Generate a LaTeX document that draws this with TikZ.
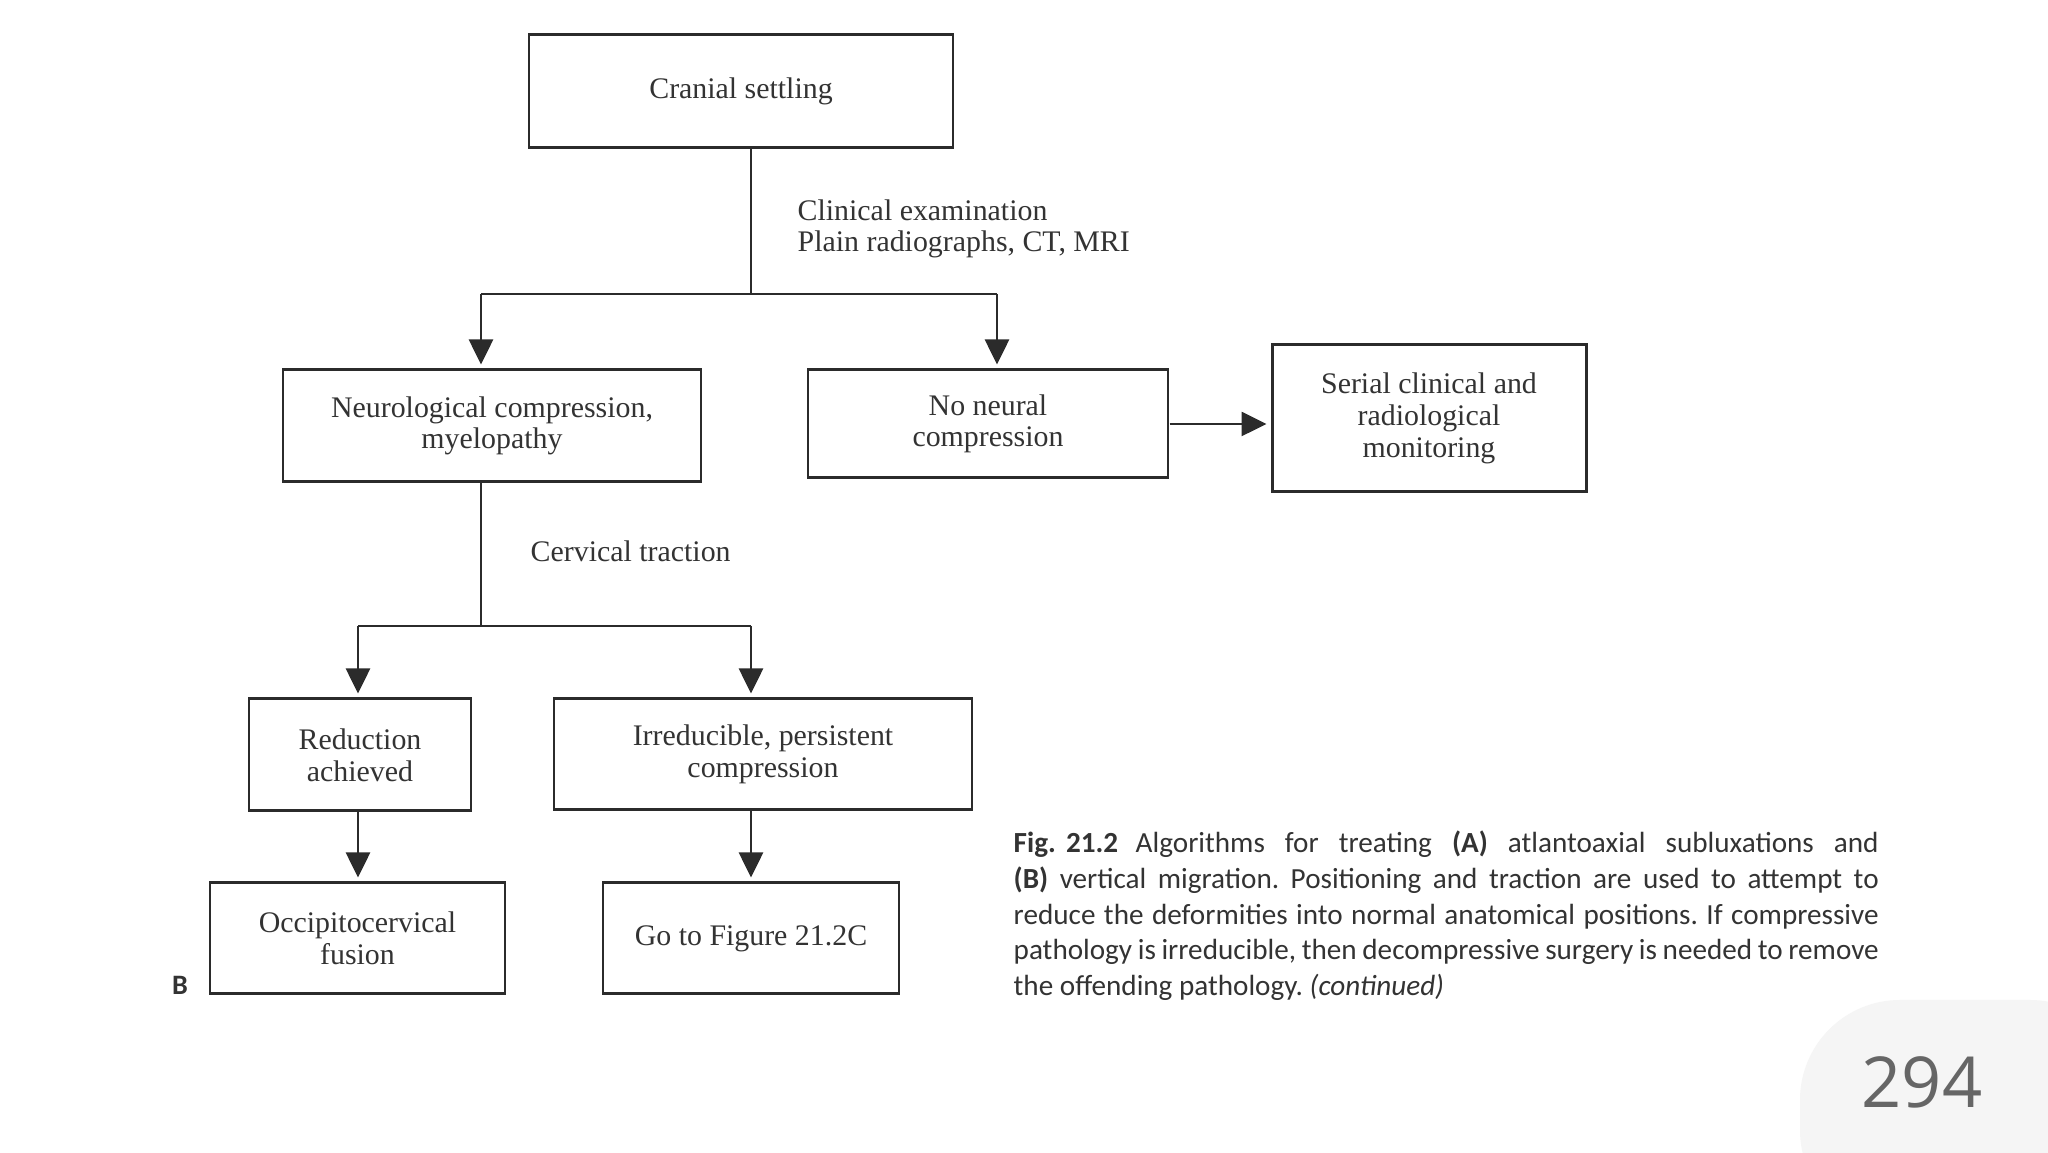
\documentclass[tikz,border=0pt]{standalone}
\usepackage{fontspec}
\setmainfont{Liberation Serif}
\newfontfamily\captionfont{Carlito}
\newfontfamily\pagefont{Open Sans}
\usetikzlibrary{arrows.meta}
\definecolor{inkgray}{HTML}{2B2B2B}
\definecolor{textgray}{HTML}{333333}
\definecolor{pagegray}{HTML}{F5F5F5}
\definecolor{numgray}{HTML}{666666}
\tikzstyle{flowbox} = [rectangle, 
draw=inkgray, 
line width=0.85pt, 
inner sep=0pt, 
text centered, 
align=center, 
text=textgray, 
font=\fontsize{8.5}{9}\selectfont]
\tikzstyle{connector} = [draw=inkgray, 
line width=0.75pt]
\tikzstyle{arrow} = [connector, 
-{Triangle[length=0.25cm, width=0.24cm]}, 
shorten >=0.04cm]
\tikzstyle{note} = [inner sep=0pt, 
align=left, 
anchor=west, 
text=textgray, 
font=\fontsize{8.5}{9}\selectfont]
\frenchspacing
\begin{document}
\begin{tikzpicture}[node distance=3.3cm]
			
			\useasboundingbox (0,0) rectangle (20.48,-11.53);
			\fill [white] (0,0) rectangle (20.48,-11.53);
			\fill [pagegray, rounded corners=1cm] (18.0,-10.0) rectangle (21.3,-12.3);
			
			\node (cranial) [flowbox, minimum width=4.24cm, minimum height=1.13cm] at (7.41,-0.915) {Cranial settling};
			
			\node (neuro) [flowbox, below of=cranial, xshift=-2.49cm, yshift=-0.045cm, minimum width=4.18cm, minimum height=1.12cm] {Neurological compression,\\myelopathy};
			
			\node (noneural) [flowbox, right of=neuro, xshift=1.66cm, yshift=0.02cm, minimum width=3.6cm, minimum height=1.08cm] {No neural\\compression};
			
			\node (serial) [flowbox, right of=noneural, xshift=1.11cm, yshift=0.055cm, minimum width=3.14cm, minimum height=1.47cm] {Serial clinical and\\radiological\\monitoring};
			
			\node (reduction) [flowbox, below of=neuro, xshift=-1.32cm, yshift=0.01cm, minimum width=2.22cm, minimum height=1.12cm] {Reduction\\achieved};
			
			\node (irreducible) [flowbox, right of=reduction, xshift=0.73cm, yshift=0.005cm, minimum width=4.18cm, minimum height=1.11cm] {Irreducible, persistent\\compression};
			
			\node (occip) [flowbox, below of=reduction, xshift=-0.025cm, yshift=1.465cm, minimum width=2.95cm, minimum height=1.11cm] {Occipitocervical\\fusion};
			
			\node (goto) [flowbox, below of=irreducible, xshift=-0.12cm, yshift=1.46cm, minimum width=2.96cm, minimum height=1.11cm] {Go to Figure 21.2C};
			
			\node (exam) [note] at (7.97,-2.29) {Clinical examination\\Plain radiographs, CT, MRI};
			
			\node (traction) [note] at (5.30,-5.51) {Cervical traction};
			
			\coordinate (split1) at (7.51,-2.94);
			\coordinate (left1) at (4.81,-2.94);
			\coordinate (right1) at (9.97,-2.94);
			\coordinate (split2) at (4.81,-6.26);
			\coordinate (left2) at (3.58,-6.26);
			\coordinate (right2) at (7.51,-6.26);
			
			\draw [connector] (cranial.south -| split1) -- (split1);
			\draw [connector] (left1) -- (right1);
			\draw [arrow] (left1) -- (left1 |- neuro.north);
			\draw [arrow] (right1) -- (right1 |- noneural.north);
			\draw [arrow] (noneural.east) -- (noneural.east -| serial.west);
			\draw [connector] (neuro.south -| split2) -- (split2);
			\draw [connector] (left2) -- (right2);
			\draw [arrow] (left2) -- (left2 |- reduction.north);
			\draw [arrow] (right2) -- (right2 |- irreducible.north);
			\draw [arrow] (reduction.south -| left2) -- (left2 |- occip.north);
			\draw [arrow] (irreducible.south -| right2) -- (right2 |- goto.north);
			
			\node (panel) [inner sep=0pt, anchor=base, text=textgray, font=\captionfont\bfseries\fontsize{8}{9}\selectfont] at (1.80,-9.95) {B};
			
			\node (caption) [anchor=north west, inner sep=0pt, text width=8.65cm, align=justify, text=textgray, font=\captionfont\fontsize{8.3}{10.2}\selectfont] at (10.13,-8.30) {\textbf{Fig.\hspace{0.35em}21.2}\hspace{0.6em}Algorithms for treating \textbf{(A)} atlantoaxial subluxations and\linebreak \textbf{(B)} vertical migration. Positioning and traction are used to attempt to\linebreak reduce the deformities into normal anatomical positions. If compressive\linebreak pathology is irreducible, then decompressive surgery is needed to remove\linebreak the offending pathology. \textit{(continued)}};
			
			\node (page) [inner sep=0pt, text=numgray, font=\pagefont\fontsize{20}{24}\selectfont] at (19.22,-10.82) {294};
			
\end{tikzpicture}
\end{document}
